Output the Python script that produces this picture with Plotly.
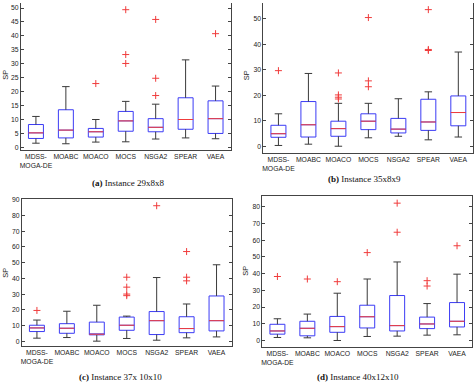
import plotly.graph_objects as go

categories = ["MDSS-MOGA-DE", "MOABC", "MOACO", "MOCS", "NSGA2", "SPEAR", "VAEA"]
tick_labels = ["MDSS-<br>MOGA-DE", "MOABC", "MOACO", "MOCS", "NSGA2", "SPEAR", "VAEA"]
positions = [1, 2, 3, 4, 5, 6, 7]

# (a) Instance 29x8x8
a_lower = [1.5, 1.3, 1.9, 2.0, 3.0, 3.4, 3.1]
a_q1 = [3.2, 3.4, 3.7, 5.8, 5.6, 6.5, 5.0]
a_median = [5.2, 6.2, 5.6, 9.5, 7.2, 10.0, 10.3]
a_q3 = [8.2, 13.5, 6.8, 12.9, 10.3, 17.8, 16.7]
a_upper = [11.1, 21.8, 10.0, 16.5, 15.5, 31.4, 22.0]
a_outliers = [[], [], [22.9], [49.4, 33.3, 30.1], [45.9, 24.8, 18.6], [], [40.8]]

# (b) Instance 35x8x9
b_lower = [0.4, 0.9, 0.1, 3.4, 4.0, 2.6, 3.7]
b_q1 = [3.6, 3.7, 4.0, 6.6, 5.3, 6.3, 8.1]
b_median = [5.0, 8.5, 7.0, 9.9, 6.8, 9.6, 13.3]
b_q3 = [8.3, 17.6, 9.9, 12.8, 11.0, 18.5, 19.8]
b_upper = [12.8, 28.6, 16.9, 16.9, 18.7, 21.4, 37.0]
b_outliers = [[29.7], [], [28.8, 20.2, 19.3, 18.6], [50.5, 25.7, 23.4], [], [53.6, 38.0, 37.6], []]

# (c) Instance 37x 10x10
c_lower = [2.1, 2.5, 0.2, 1.9, 0.8, 2.3, 2.9]
c_q1 = [6.3, 5.2, 4.2, 7.1, 4.4, 5.6, 6.7]
c_median = [8.6, 8.4, 4.6, 10.3, 13.2, 8.2, 13.2]
c_q3 = [10.3, 11.3, 12.3, 15.5, 19.0, 15.7, 28.9]
c_upper = [13.6, 19.2, 23.0, 16.1, 40.6, 23.8, 48.7]
c_outliers = [[19.7], [], [], [40.8, 34.5, 30.1, 29.1], [86.2], [57.1, 40.8, 38.5], []]

# (d) Instance 40x12x10
d_lower = [1.8, 1.6, 0.0, 2.4, 2.6, 3.2, 3.4]
d_q1 = [3.8, 2.8, 4.9, 7.5, 5.7, 7.1, 8.1]
d_median = [5.7, 7.3, 8.3, 14.2, 8.9, 9.9, 11.5]
d_q3 = [9.7, 11.5, 14.4, 21.1, 26.9, 14.0, 22.7]
d_upper = [13.0, 15.8, 28.3, 36.8, 47.0, 22.1, 39.7]
d_outliers = [[38.3], [36.8], [35.2], [52.6], [82.2, 64.8], [35.8, 32.6], [56.7]]

W, H = 474, 383
BLUE = "#3b3bf5"
RED = "#f03c3c"
WHISK = "#3a3a3a"
AXC = "#444444"

panels = [
    dict(data=(a_lower, a_q1, a_median, a_q3, a_upper, a_outliers),
         px_x=(20, 230), px_y=(0, 148.3), yrange=[-0.85, 51.8], dtick=5, mirror_top=False,
         caption="<b>(a)</b> Instance 29x8x8", cap=(127, 182), sp=(4.5, 72)),
    dict(data=(b_lower, b_q1, b_median, b_q3, b_upper, b_outliers),
         px_x=(263, 473.3), px_y=(0, 151.7), yrange=[-2.6, 56.2], dtick=10, mirror_top=False,
         caption="<b>(b)</b> Instance 35x8x9", cap=(364, 178), sp=(245.5, 73)),
    dict(data=(c_lower, c_q1, c_median, c_q3, c_upper, c_outliers),
         px_x=(21, 231), px_y=(198.5, 346.5), yrange=[-2.8, 90.2], dtick=10, mirror_top=True,
         caption="<b>(c)</b> Instance 37x 10x10", cap=(120, 378), sp=(4.5, 272)),
    dict(data=(d_lower, d_q1, d_median, d_q3, d_upper, d_outliers),
         px_x=(262, 472), px_y=(195, 347.3), yrange=[-3.7, 86.5], dtick=10, mirror_top=True,
         caption="<b>(d)</b> Instance 40x12x10", cap=(358, 378), sp=(245, 270)),
]

fig = go.Figure()
annotations = []
layout = {}
for k, p in enumerate(panels):
    idx = "" if k == 0 else str(k + 1)
    xa, ya = "x" + idx, "y" + idx
    lower, q1, med, q3, upper, outl = p["data"]
    # boxes
    fig.add_trace(go.Box(
        x=positions, q1=q1, median=med, q3=q3, lowerfence=q1, upperfence=q3,
        width=0.5, whiskerwidth=0, line=dict(color=BLUE, width=1),
        fillcolor="rgba(0,0,0,0)", boxpoints=False, showlegend=False,
        hoverinfo="skip", xaxis=xa, yaxis=ya))
    # whiskers and caps
    wx, wy = [], []
    for i, pos in enumerate(positions):
        wx += [pos, pos, None, pos, pos, None,
               pos - 0.125, pos + 0.125, None, pos - 0.125, pos + 0.125, None]
        wy += [q3[i], upper[i], None, q1[i], lower[i], None,
               upper[i], upper[i], None, lower[i], lower[i], None]
    fig.add_trace(go.Scatter(x=wx, y=wy, mode="lines", line=dict(color=WHISK, width=1),
                             showlegend=False, hoverinfo="skip", xaxis=xa, yaxis=ya))
    # medians
    mx, my = [], []
    for i, pos in enumerate(positions):
        mx += [pos - 0.25, pos + 0.25, None]
        my += [med[i], med[i], None]
    fig.add_trace(go.Scatter(x=mx, y=my, mode="lines", line=dict(color=RED, width=1),
                             showlegend=False, hoverinfo="skip", xaxis=xa, yaxis=ya))
    # outliers
    ox, oy = [], []
    for i, pos in enumerate(positions):
        for v in outl[i]:
            ox.append(pos)
            oy.append(v)
    fig.add_trace(go.Scatter(x=ox, y=oy, mode="markers",
                             marker=dict(symbol="cross-thin-open", size=5, color=RED,
                                         line=dict(color=RED, width=1)),
                             showlegend=False, hoverinfo="skip", xaxis=xa, yaxis=ya))

    x0, x1 = p["px_x"]
    ytop, ybot = p["px_y"]
    layout["xaxis" + idx] = dict(
        domain=[x0 / W, x1 / W], range=[0.5, 7.5], tickmode="array",
        tickvals=positions, ticktext=tick_labels, ticks="", tickangle=0,
        showline=True, linecolor=AXC, linewidth=1, mirror=p["mirror_top"],
        showgrid=False, zeroline=False, anchor=ya,
        tickfont=dict(family="Liberation Sans, Arial", size=6.8, color="#222"))
    layout["yaxis" + idx] = dict(
        domain=[1 - ybot / H, 1 - ytop / H], range=p["yrange"], tick0=0, dtick=p["dtick"],
        ticks="inside", ticklen=3, tickcolor=AXC, showline=True, linecolor=AXC,
        linewidth=1, mirror="ticks", showgrid=False, zeroline=False, anchor=xa,
        tickfont=dict(family="Liberation Sans, Arial", size=6.8, color="#222"))
    annotations.append(dict(text=p["caption"], x=p["cap"][0] / W, y=1 - p["cap"][1] / H,
                            xref="paper", yref="paper", showarrow=False,
                            xanchor="center", yanchor="middle",
                            font=dict(family="Liberation Serif, Times New Roman", size=9,
                                      color="#111")))
    annotations.append(dict(text="SP", x=p["sp"][0] / W, y=1 - p["sp"][1] / H,
                            xref="paper", yref="paper", showarrow=False, textangle=-90,
                            xanchor="center", yanchor="middle",
                            font=dict(family="Liberation Sans, Arial", size=7.5, color="#222")))

fig.update_layout(width=W, height=H, margin=dict(l=0, r=0, t=0, b=0),
                  paper_bgcolor="white", plot_bgcolor="white",
                  annotations=annotations, showlegend=False, **layout)
fig.write_html("out.html")
